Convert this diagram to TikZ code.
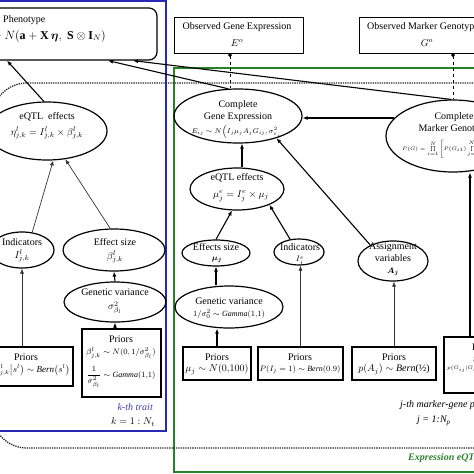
\documentclass[tikz,border=0pt]{standalone}
\usepackage{amsmath,bm}
\usepackage{fontspec}
\setmainfont{Liberation Serif}
\usetikzlibrary{shapes.geometric,arrows.meta}
\definecolor{plateblue}{RGB}{40,40,180}
\definecolor{plategreen}{RGB}{40,130,40}
\definecolor{labelblue}{RGB}{60,60,170}
\begin{document}
\begin{tikzpicture}[x=1pt,y=-1pt,
  ell/.style={draw, ellipse, line width=1.2pt, inner sep=0pt},
  boxn/.style={draw, line width=1.2pt, inner sep=0pt},
  txt/.style={align=center, inner sep=0pt, font=\fontsize{10}{12}\selectfont},
  small/.style={align=center, inner sep=0pt, font=\fontsize{8}{9}\selectfont},
  arr/.style={-{Latex[length=5pt,width=4pt]}, line width=1.1pt},
  thinarr/.style={-{Latex[length=5pt,width=4pt]}, line width=0.7pt, black!80},
  obsline/.style={{Circle[length=3.5pt]}-, dashed, line width=1pt},
  platedots/.style={densely dotted, line width=1.3pt, black!85}]
\useasboundingbox (0,0) rectangle (474,474);
\clip (0,0) rectangle (474,474);

% plates
\draw[plateblue, line width=1.5pt] (-20,1) rectangle (166,431);
\draw[plategreen, line width=1.5pt] (174,68) rectangle (500,472);
\draw[platedots, rounded corners=35pt] (-8,83) rectangle (540,448);

% phenotype
\node[boxn, rounded corners=8pt, minimum width=217pt, minimum height=52pt] (pheno) at (48.5,34) {};
\node[txt, anchor=west] (phenoT) at (3,20) {Phenotype};
\node[txt, anchor=east, font=\fontsize{12}{14}\selectfont] (phenoF) at (106,36)
  {$\mathbf{y}\sim N\!\left(\mathbf{a}+\mathbf{X}\,\bm{\eta},\;\mathbf{S}\otimes\mathbf{I}_N\right)$};

% observed boxes
\node[boxn, line width=0.9pt, minimum width=129pt, minimum height=36pt] (obsE) at (238.5,35) {};
\node[txt] (obsEt) at (237,27) {Observed Gene Expression};
\node[txt] (obsEs) at (237,43) {$E^{o}$};
\node[boxn, line width=0.9pt, minimum width=188pt, minimum height=36pt] (obsG) at (453,35) {};
\node[txt, anchor=west] (obsGt) at (367,27) {Observed Marker Genotype};
\node[txt] (obsGs) at (427,43) {$G^{o}$};

% complete gene expression
\node[ell, minimum width=128pt, minimum height=54pt] (geneE) at (238,116) {};
\node[txt] (geneEt) at (238,111) {Complete\\Gene Expression};
\node[small, font=\fontsize{7.5}{9}\selectfont] (geneEf) at (237,132) {$E_{ij}\sim N\!\left(I_j\mu_jA_jG_{ij},\sigma^2_{\varepsilon_j}\right.$};

% complete marker genotype
\node[ell, minimum width=134pt, minimum height=72pt] (marker) at (453,136) {};
\node[txt] (markerT) at (454,123.5) {Complete\\Marker Genotype};
\node[inner sep=0pt, anchor=west, font=\fontsize{5}{6}\selectfont] (markerF) at (402,149)
  {$P(G)=\prod\limits_{i=1}^{N}\left[P(G_{i1})\prod\limits_{j=2}^{N_p}P(G_{ij}|G_{i,j-1})\right]$};

% left (trait) part
\node[ell, minimum width=120pt, minimum height=58pt] (eqL) at (47,131) {};
\node[txt] (eqLt) at (47,117) {eQTL\ \ effects};
\node[txt] (eqLf) at (47,133) {$\eta^{l}_{j,k}=I^{l}_{j,k}\times\beta^{l}_{j,k}$};

\node[ell, minimum width=64pt, minimum height=36pt] (indL) at (22,250) {};
\node[txt] (indLt) at (22,242) {Indicators};
\node[txt] (indLs) at (22,256) {$I^{l}_{j,k}$};

\node[ell, minimum width=102pt, minimum height=42pt] (effL) at (114,250) {};
\node[txt] (effLt) at (115,242) {Effect size};
\node[txt] (effLs) at (115,257) {$\beta^{l}_{j,k}$};

\node[ell, minimum width=102pt, minimum height=40pt] (gvL) at (115,302) {};
\node[txt] (gvLt) at (115,292) {Genetic variance};
\node[txt] (gvLs) at (115,308) {$\sigma^{2}_{\beta_l}$};

\node[boxn, minimum width=98pt, minimum height=39pt] (priorsL1) at (24,366.5) {};
\node[txt] (priorsL1t) at (26,357) {Priors};
\node[small, anchor=east, font=\fontsize{9}{10}\selectfont] (priorsL1f) at (70,370)
  {$p\!\left(I^{l}_{j,k}\middle|s^{l}\right)\sim \mathit{Bern}\!\left(s^{l}\right)$};

\node[boxn, line width=1.5pt, minimum width=79pt, minimum height=68pt] (priorsL2) at (121.5,363) {};
\node[txt] (priorsL2t) at (121,339) {Priors};
\node[small] (priorsL2a) at (121,353) {$\beta^{l}_{j,k}\sim N(0,1/\sigma^{2}_{\beta_l})$};
\node[small] (priorsL2b) at (121,377) {$\dfrac{1}{\sigma^{2}_{\beta_l}}\sim \mathit{Gamma}(1{,}1)$};

\node[txt, anchor=east, text=labelblue, font=\fontsize{10}{12}\selectfont\itshape] (ktrait) at (153,407) {k-th trait};
\node[txt, anchor=east] (krange) at (155,422) {$k=1:N_t$};

% right (expression eQTL) part
\node[ell, minimum width=94pt, minimum height=42pt] (eqR) at (237,189) {};
\node[txt] (eqRt) at (237,178) {eQTL effects};
\node[txt] (eqRf) at (241,196) {$\mu^{e}_{j}=I^{e}_{j}\times\mu_j$};

\node[ell, minimum width=68pt, minimum height=26pt] (effR) at (216,253) {};
\node[txt] (effRt) at (216,247) {Effects size};
\node[small] (effRs) at (217,260) {$\bm{\mu_j}$};

\node[ell, minimum width=50pt, minimum height=26pt] (indR) at (299,252) {};
\node[txt] (indRt) at (300,247) {Indicators};
\node[small] (indRs) at (300,261) {$I^{e}_{j}$};

\node[ell, minimum width=70pt, minimum height=40pt] (asgR) at (393,261) {};
\node[txt] (asgRt) at (393,252.5) {Assignment\\variables};
\node[small] (asgRs) at (393,272) {$\bm{A_j}$};

\node[ell, minimum width=108pt, minimum height=42pt] (gvR) at (229,307) {};
\node[txt] (gvRt) at (229,301) {Genetic variance};
\node[small] (gvRf) at (229,314) {$1/\sigma^{2}_{0}\sim \mathit{Gamma}(1{,}1)$};

\node[boxn, minimum width=68pt, minimum height=33pt] (priorsR1) at (217,363.5) {};
\node[txt] (priorsR1t) at (217,357) {Priors};
\node[txt] (priorsR1f) at (217,369.5) {$\mu_j\sim N(0{,}100)$};

\node[boxn, minimum width=85pt, minimum height=33pt] (priorsR2) at (300.5,363.5) {};
\node[txt] (priorsR2t) at (300,357) {Priors};
\node[small] (priorsR2f) at (300,369.5) {$P(I_j=1)\sim \mathit{Bern}(0.9)$};

\node[boxn, minimum width=84pt, minimum height=33pt] (priorsR3) at (394,363.5) {};
\node[txt] (priorsR3t) at (394,357) {Priors};
\node[txt] (priorsR3f) at (394,369.5) {$p(A_j)\sim \mathit{Bern}$(½)};

\node[boxn, minimum width=80pt, minimum height=56pt] (priorsG) at (484,365) {};
\node[txt] (priorsGt) at (484,347) {Priors};
\node[inner sep=0pt, anchor=west, font=\fontsize{6}{7}\selectfont] (priorsGa) at (473,359) {$p(G_{i1})$};
\node[inner sep=0pt, anchor=west, font=\fontsize{4}{5}\selectfont] (priorsGb) at (447,369) {$p(G_{ij}|G_{i,j-1})=\ldots$};

\node[txt, anchor=west, font=\fontsize{10}{12}\selectfont\itshape] (jplate) at (400,405) {j-th marker-gene pair};
\node[txt, anchor=west, font=\fontsize{10}{12}\selectfont\itshape] (jrange) at (417,421) {j = 1:N\textsubscript{p}};
\node[txt, anchor=west, text=plategreen, font=\fontsize{10}{12}\selectfont\bfseries\itshape] (explabel) at (408,458) {Expression eQTL};

% connectors to phenotype
\draw[arr] (eqL.96) -- ([xshift=-41.5pt]pheno.south);
\draw[arr] (geneE.110) -- ([xshift=59.5pt]pheno.south);
\draw[arr] (marker.93) -- ([xshift=84.5pt]pheno.south);

% observed links
\draw[obsline] ([xshift=-8.5pt]obsE.south) -- ([xshift=-8.5pt]obsE.south |- geneE.north);
\draw[obsline] (marker.north |- obsG.south) -- (marker.north);

% right connectors
\draw[arr] (marker.163) -- (marker.163 -| geneE.east);
\draw[arr] ([xshift=5pt]eqR.north) -- ([xshift=5pt]eqR.north |- geneE.south);
\draw[arr] (effR.north) -- (eqR.-103);
\draw[arr] (indR.125) -- (eqR.-26);
\draw[arr] (asgR.145) -- (geneE.-30);
\draw[arr] (gvR.north -| effR.south) -- (effR.south);
\draw[arr] (priorsR1.north) -- (priorsR1.north |- gvR.south);
\draw[thinarr] (priorsR2.north) -- (priorsR2.north |- indR.south);
\draw[thinarr] (priorsR3.north) -- (priorsR3.north |- asgR.south);
\draw[arr] ([xshift=-14pt]priorsG.north) -- ([xshift=-14pt]priorsG.north |- marker.south);

% left connectors
\draw[thinarr] (indL.60) -- (eqL.-78);
\draw[thinarr] (effL.100) -- (eqL.-57);
\draw[thinarr] (indL.south |- priorsL1.north) -- (indL.south);
\draw[arr] (gvL.north) -- (effL.south);
\draw[arr] (priorsL2.north -| gvL.south) -- (gvL.south);
\end{tikzpicture}
\end{document}
